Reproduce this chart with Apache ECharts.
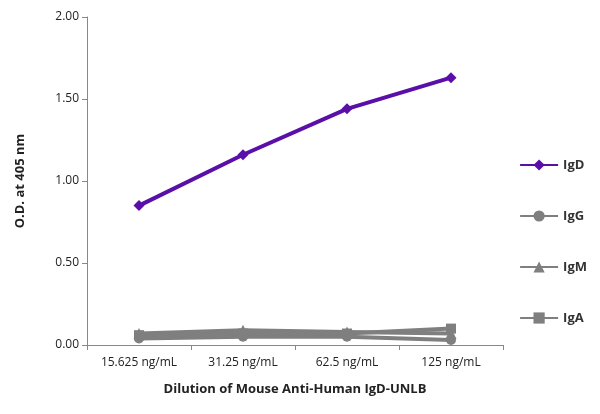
<!DOCTYPE html><html><head><script src="https://cdn.jsdelivr.net/npm/echarts@6/dist/echarts.min.js"></script></head><body style="margin:0"><div id="c" style="width:600px;height:414px"></div><script>
const categories=["15.625 ng/mL","31.25 ng/mL","62.5 ng/mL","125 ng/mL"];
const IgD=[0.85,1.16,1.44,1.63];
const IgG=[0.04,0.05,0.05,0.03];
const IgM=[0.07,0.09,0.08,0.07];
const IgA=[0.06,0.07,0.07,0.10];
const yTicks=["0.00","0.50","1.00","1.50","2.00"];
const f='"Open Sans", sans-serif';
function s(name,data,color,symbol,size){return {name,type:'line',data,symbol,symbolSize:size,lineStyle:{color,width:4},itemStyle:{color},showSymbol:true};}
const ch=echarts.init(document.getElementById('c'));
ch.setOption({animation:false,
grid:{left:83,right:97,top:17,bottom:69},
legend:{orient:'vertical',right:8,top:148,itemGap:27,itemWidth:38,itemHeight:14,textStyle:{fontFamily:f,fontWeight:'bold',fontSize:13,color:'#333'},data:['IgD','IgG','IgM','IgA']},
xAxis:{type:'category',data:categories,boundaryGap:true,name:'Dilution of Mouse Anti-Human IgD-UNLB',nameLocation:'middle',nameGap:30,nameTextStyle:{fontFamily:f,fontWeight:'bold',fontSize:13,color:'#222'},axisLine:{lineStyle:{color:'#888'}},axisTick:{show:true,lineStyle:{color:'#888'}},axisLabel:{fontFamily:f,fontSize:12,color:'#222'}},
yAxis:{type:'value',min:0,max:2,interval:0.5,name:'O.D. at 405 nm',nameLocation:'middle',nameGap:55,nameTextStyle:{fontFamily:f,fontWeight:'bold',fontSize:13,color:'#222'},axisLine:{show:true,lineStyle:{color:'#888'}},axisTick:{show:true,lineStyle:{color:'#888'}},splitLine:{show:false},axisLabel:{fontFamily:f,fontSize:12,color:'#222',formatter:v=>yTicks[Math.round(v/0.5)]}},
series:[s('IgD',IgD,'#5a0fa8','diamond',11),s('IgG',IgG,'#7f7f7f','circle',10),s('IgM',IgM,'#7f7f7f','triangle',11),s('IgA',IgA,'#7f7f7f','rect',10)]});
</script></body></html>
